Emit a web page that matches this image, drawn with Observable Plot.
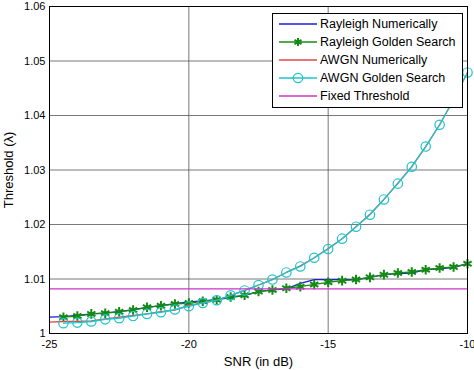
<!DOCTYPE html>
<html>
<head>
<meta charset="utf-8">
<script src="https://cdn.jsdelivr.net/npm/d3@7"></script>
<script src="https://cdn.jsdelivr.net/npm/@observablehq/plot@0.6"></script>
<style>
  html, body { margin: 0; padding: 0; background: #fff; }
  #wrap { position: relative; width: 474px; height: 370px; font-family: "Liberation Sans", Arial, sans-serif; }
  #legend { position: absolute; left: 272px; top: 13px; }
</style>
</head>
<body>
<div id="wrap"></div>
<script>
// ---- data ----
const snr = [-25, -24.5, -24, -23.5, -23, -22.5, -22, -21.5, -21, -20.5, -20, -19.5, -19, -18.5, -18, -17.5, -17, -16.5, -16, -15.5, -15, -14.5, -14, -13.5, -13, -12.5, -12, -11.5, -11, -10.5, -10];
const rayleighNum = [1.0030, 1.0031, 1.0033, 1.0036, 1.0038, 1.0040, 1.0044, 1.0048, 1.0051, 1.0055, 1.0058, 1.0060, 1.0062, 1.0066, 1.0070, 1.0077, 1.0080, 1.0082, 1.0092, 1.0099, 1.0099, 1.0099, 1.0099, 1.0103, 1.0108, 1.0110, 1.0111, 1.0117, 1.0119, 1.0121, 1.0128];
const rayleighGS = [null, 1.0030, 1.0032, 1.0036, 1.0037, 1.0040, 1.0043, 1.0048, 1.0051, 1.0054, 1.0056, 1.0059, 1.0062, 1.0067, 1.0070, 1.0077, 1.0080, 1.0083, 1.0086, 1.0090, 1.0094, 1.0097, 1.0099, 1.0103, 1.0108, 1.0111, 1.0113, 1.0117, 1.0120, 1.0122, 1.0128];
const awgnNum = [1.0021, 1.0022, 1.0022, 1.0023, 1.0027, 1.0030, 1.0033, 1.0036, 1.0040, 1.0043, 1.0052, 1.0056, 1.0061, 1.0070, 1.0079, 1.0089, 1.0099, 1.0112, 1.0124, 1.0139, 1.0156, 1.0174, 1.0196, 1.0219, 1.0246, 1.0276, 1.0306, 1.0343, 1.0383, 1.0429, 1.0479];
const awgnGS = [null, 1.0019, 1.0020, 1.0022, 1.0026, 1.0028, 1.0032, 1.0036, 1.0039, 1.0044, 1.0050, 1.0056, 1.0061, 1.0070, 1.0079, 1.0089, 1.0099, 1.0112, 1.0123, 1.0139, 1.0155, 1.0174, 1.0196, 1.0218, 1.0246, 1.0275, 1.0306, 1.0343, 1.0383, 1.0429, 1.0479];
const fixedThreshold = 1.0082;

const xTicks = [-25, -20, -15, -10];
const yTicks = [1, 1.01, 1.02, 1.03, 1.04, 1.05, 1.06];
const seriesNames = ["Rayleigh Numerically", "Rayleigh Golden Search", "AWGN Numerically", "AWGN Golden Search", "Fixed Threshold"];
const colors = ["#1c1cd8", "#148a14", "#e04848", "#1cc4cc", "#cc33cc"];

const rows = snr.map((s, i) => ({snr: s, rn: rayleighNum[i], rg: rayleighGS[i], an: awgnNum[i], ag: awgnGS[i]}));
const rgRows = rows.filter(d => d.rg != null);
const agRows = rows.filter(d => d.ag != null);

const chart = Plot.plot({
  width: 474, height: 370,
  marginLeft: 49, marginRight: 7, marginTop: 6, marginBottom: 37,
  style: {fontFamily: "'Liberation Sans', Arial, sans-serif", fontSize: "11px", background: "#fff", color: "#000"},
  x: {domain: [-25, -10]},
  y: {domain: [1, 1.06]},
  marks: [
    Plot.gridX(xTicks, {stroke: "#555", strokeOpacity: 1, strokeWidth: 0.8}),
    Plot.gridY(yTicks, {stroke: "#555", strokeOpacity: 1, strokeWidth: 0.8}),
    Plot.axisX({ticks: xTicks, tickSize: 0, tickPadding: 7, tickFormat: d => String(d), label: null, fontSize: 11}),
    Plot.axisY({ticks: yTicks, tickSize: 0, tickPadding: 4, tickFormat: d => d === 1 ? "1" : d.toFixed(2), label: null, fontSize: 11}),
    Plot.text(["SNR (in dB)"], {text: d => d, frameAnchor: "bottom", lineAnchor: "middle", dy: 28, fontSize: 13}),
    Plot.text(["Threshold (λ)"], {text: d => d, frameAnchor: "left", textAnchor: "middle", lineAnchor: "middle", rotate: -90, dx: -41, fontSize: 13}),
    Plot.line(rows, {x: "snr", y: "rn", stroke: colors[0], strokeWidth: 1.3}),
    Plot.line(rgRows, {x: "snr", y: "rg", stroke: colors[1], strokeWidth: 1.3}),
    Plot.dot(rgRows, {x: "snr", y: "rg", symbol: "asterisk", r: 4.5, stroke: colors[1], strokeWidth: 2}),
    Plot.line(rows, {x: "snr", y: "an", stroke: colors[2], strokeWidth: 1.3}),
    Plot.line(agRows, {x: "snr", y: "ag", stroke: colors[3], strokeWidth: 1.3}),
    Plot.dot(agRows, {x: "snr", y: "ag", symbol: "circle", r: 4.7, fill: "none", stroke: colors[3], strokeWidth: 1.2}),
    Plot.ruleY([fixedThreshold], {stroke: colors[4], strokeWidth: 1.3}),
    Plot.frame({stroke: "#000", strokeWidth: 1})
  ]
});
document.getElementById("wrap").appendChild(chart);

// ---- legend ----
const ns = "http://www.w3.org/2000/svg";
const lg = document.createElementNS(ns, "svg");
lg.setAttribute("id", "legend");
lg.setAttribute("width", 191);
lg.setAttribute("height", 95);
const box = document.createElementNS(ns, "rect");
box.setAttribute("x", 0.5); box.setAttribute("y", 0.5);
box.setAttribute("width", 190); box.setAttribute("height", 94);
box.setAttribute("fill", "#fff"); box.setAttribute("stroke", "#000");
lg.appendChild(box);
seriesNames.forEach((name, i) => {
  const y = 11 + i * 18;
  const ln = document.createElementNS(ns, "line");
  ln.setAttribute("x1", 7); ln.setAttribute("x2", 45);
  ln.setAttribute("y1", y); ln.setAttribute("y2", y);
  ln.setAttribute("stroke", colors[i]); ln.setAttribute("stroke-width", 1.3);
  lg.appendChild(ln);
  if (i === 1) {
    const p = document.createElementNS(ns, "path");
    p.setAttribute("d", d3.symbol(d3.symbolAsterisk, 45)());
    p.setAttribute("transform", `translate(26,${y})`);
    p.setAttribute("stroke", colors[i]); p.setAttribute("stroke-width", 2); p.setAttribute("fill", "none");
    lg.appendChild(p);
  }
  if (i === 3) {
    const c = document.createElementNS(ns, "circle");
    c.setAttribute("cx", 26); c.setAttribute("cy", y); c.setAttribute("r", 4.7);
    c.setAttribute("stroke", colors[i]); c.setAttribute("stroke-width", 1.2); c.setAttribute("fill", "none");
    lg.appendChild(c);
  }
  const t = document.createElementNS(ns, "text");
  t.setAttribute("x", 48); t.setAttribute("y", y);
  t.setAttribute("dy", "0.35em");
  t.setAttribute("font-size", "12.5px");
  t.setAttribute("font-family", "'Liberation Sans', Arial, sans-serif");
  t.setAttribute("fill", "#000");
  t.textContent = name;
  lg.appendChild(t);
});
document.getElementById("wrap").appendChild(lg);
</script>
</body>
</html>
